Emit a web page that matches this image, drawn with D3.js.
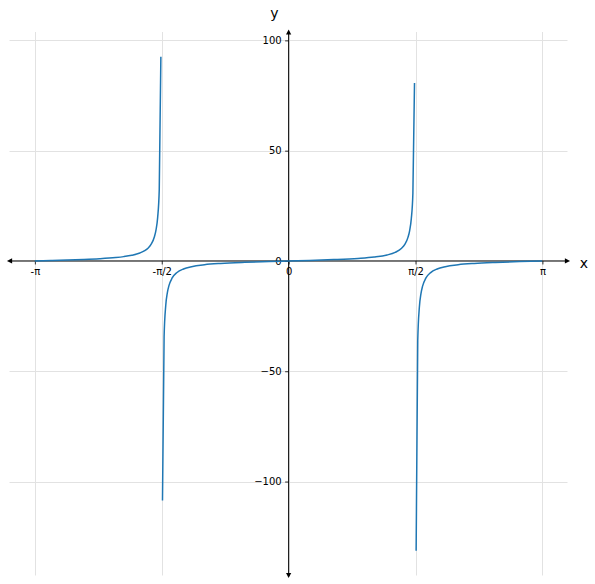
<!DOCTYPE html>
<html>
<head>
<meta charset="utf-8">
<script src="https://cdn.jsdelivr.net/npm/d3@7"></script>
<style>
  html, body { margin: 0; padding: 0; background: #fff; }
  svg { display: block; font-family: "DejaVu Sans", sans-serif; }
</style>
</head>
<body>
<svg id="chart" width="595" height="584"></svg>
<script>
// ---- data (x in radians, y values) ----
const leftBranchX  = [-3.1416, -2.9416, -2.7416, -2.5416, -2.3416, -2.1416, -2.0416, -1.9416, -1.8416, -1.7816, -1.7416, -1.7016, -1.6616, -1.6416, -1.6216, -1.6016, -1.5816];
const leftBranchY  = [0, 0.203, 0.423, 0.684, 1.03, 1.557, 1.965, 2.572, 3.602, 4.673, 5.798, 7.602, 10.98, 14.1, 19.67, 32.46, 92.62];

const midBranchX   = [-1.5616, -1.5416, -1.5216, -1.5016, -1.4816, -1.4416, -1.3816, -1.3016, -1.2016, -1.0416, -0.8416, -0.5416, -0.2416, -0.0016, 0.2584, 0.5584, 0.8584, 1.0584, 1.2184, 1.3184, 1.3984, 1.4384, 1.4784, 1.4984, 1.5184, 1.5384, 1.5584];
const midBranchY   = [-108.65, -34.23, -20.31, -14.43, -11.18, -7.7, -5.22, -3.62, -2.58, -1.71, -1.12, -0.6, -0.246, -0.002, 0.264, 0.625, 1.158, 1.777, 2.72, 3.877, 5.743, 7.509, 10.79, 13.79, 19.07, 30.85, 80.71];

const rightBranchX = [1.5784, 1.5984, 1.6184, 1.6384, 1.6584, 1.6984, 1.7584, 1.8384, 1.9384, 2.0984, 2.2984, 2.5584, 2.8584, 3.1384];
const rightBranchY = [-131.4, -36.2, -20.99, -14.77, -11.39, -7.8, -5.27, -3.64, -2.59, -1.71, -1.12, -0.659, -0.291, -0.003];

const xTickValues = [-Math.PI, -Math.PI / 2, 0, Math.PI / 2, Math.PI];
const xTickLabels = ["-π", "-π/2", "0", "π/2", "π"];
const yTickValues = [-100, -50, 0, 50, 100];
const yTickLabels = ["−100", "−50", "0", "50", "100"];

// ---- layout ----
const svg = d3.select("#chart");
const plotLeft = 9.5, plotRight = 567.5, plotTop = 32, plotBottom = 575.5;

const x = d3.scaleLinear().domain([-3.4556, 3.4524]).range([plotLeft, plotRight]);
const y = d3.scaleLinear().domain([-142.6, 103.8]).range([plotBottom, plotTop]);

const x0 = x(0), y0 = y(0);

// grid
const grid = svg.append("g").attr("stroke", "#e2e2e2").attr("stroke-width", 1);
grid.selectAll("line.gx").data(xTickValues).join("line")
  .attr("x1", d => Math.round(x(d)) + 0.5).attr("x2", d => Math.round(x(d)) + 0.5)
  .attr("y1", plotTop).attr("y2", plotBottom);
grid.selectAll("line.gy").data(yTickValues).join("line")
  .attr("y1", d => Math.round(y(d)) + 0.5).attr("y2", d => Math.round(y(d)) + 0.5)
  .attr("x1", plotLeft).attr("x2", plotRight);

// axes through the origin
const xAxis = d3.axisBottom(x).tickValues(xTickValues)
  .tickFormat((d, i) => xTickLabels[i]).tickSizeInner(3.5).tickSizeOuter(0).tickPadding(3);
const yAxis = d3.axisLeft(y).tickValues(yTickValues)
  .tickFormat((d, i) => yTickLabels[i]).tickSizeInner(3.5).tickSizeOuter(0).tickPadding(3.5);

const gx = svg.append("g").attr("transform", `translate(0,${y0})`).call(xAxis);
const gy = svg.append("g").attr("transform", `translate(${x0},0)`).call(yAxis);
[gx, gy].forEach(g => {
  g.selectAll("path.domain").attr("stroke", "#000").attr("stroke-width", 1);
  g.selectAll(".tick line").attr("stroke", "#000").attr("stroke-width", 0.8);
  g.selectAll(".tick text").attr("fill", "#000")
    .style("font-family", "'DejaVu Sans', sans-serif").style("font-size", "10px");
});
gx.select("path.domain").attr("d", `M${plotLeft},0H${plotRight}`);
gy.select("path.domain").attr("d", `M0,${plotTop}V${plotBottom}`);

// arrowheads
const s = 2.6;
const arrows = [
  `M${plotRight + s},${y0} L${plotRight - s},${y0 - s} L${plotRight - s},${y0 + s} Z`,
  `M${plotLeft - s},${y0} L${plotLeft + s},${y0 - s} L${plotLeft + s},${y0 + s} Z`,
  `M${x0},${plotTop - s} L${x0 - s},${plotTop + s} L${x0 + s},${plotTop + s} Z`,
  `M${x0},${plotBottom + s} L${x0 - s},${plotBottom - s} L${x0 + s},${plotBottom - s} Z`
];
svg.append("g").selectAll("path").data(arrows).join("path").attr("d", d => d).attr("fill", "#000");

// curve branches
const branches = [
  d3.zip(leftBranchX, leftBranchY),
  d3.zip(midBranchX, midBranchY),
  d3.zip(rightBranchX, rightBranchY)
];
const line = d3.line().x(d => x(d[0])).y(d => y(d[1])).curve(d3.curveMonotoneX);
svg.append("g").selectAll("path").data(branches).join("path")
  .attr("d", line).attr("fill", "none").attr("stroke", "#1f77b4").attr("stroke-width", 1.5);

// axis labels
svg.append("text").attr("x", 584).attr("y", 267.5).attr("text-anchor", "middle")
  .style("font-size", "14px").attr("fill", "#000").text("x");
svg.append("text").attr("x", 274.5).attr("y", 18).attr("text-anchor", "middle")
  .style("font-size", "14px").attr("fill", "#000").text("y");
</script>
</body>
</html>
